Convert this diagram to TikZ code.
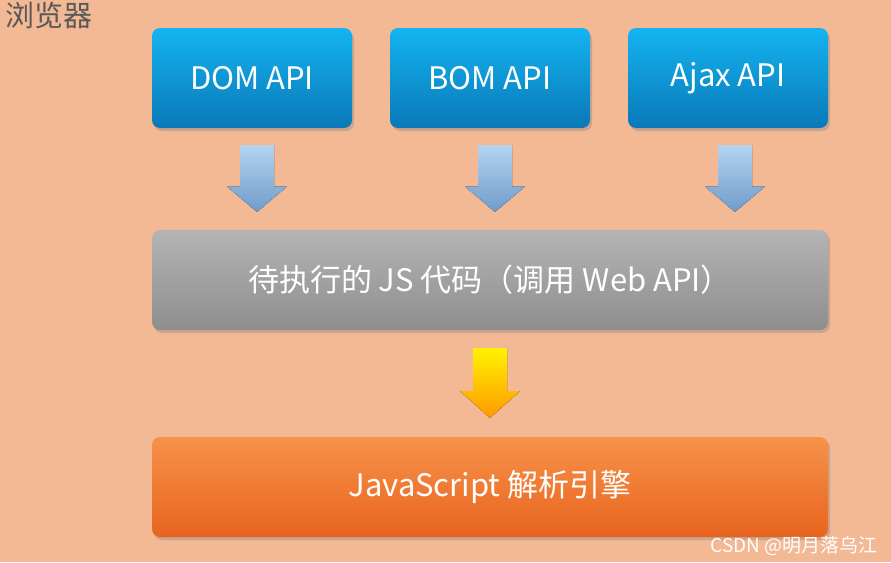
\documentclass[tikz,border=0pt]{standalone}
\usepackage{fontspec}
\setmainfont{Noto Sans CJK SC}
\usetikzlibrary{shadows}
\definecolor{bg}{HTML}{F3B894}
\definecolor{bluetop}{HTML}{14B4F0}
\definecolor{bluebot}{HTML}{0A78B8}
\definecolor{graytop}{HTML}{B4B4B4}
\definecolor{graybot}{HTML}{8E8E8E}
\definecolor{ortop}{HTML}{F7924A}
\definecolor{orbot}{HTML}{E8641E}
\definecolor{arrtop}{HTML}{B4D4F0}
\definecolor{arrbot}{HTML}{6E9CCB}
\tikzset{
  box/.style={rounded corners=8pt, minimum height=100pt, text=white, font=\fontsize{31}{36}\selectfont, drop shadow={shadow xshift=2pt,shadow yshift=-3pt,opacity=0.35}},
  bluebox/.style={box, minimum width=200pt, top color=bluetop, bottom color=bluebot},
  graybox/.style={box, minimum width=676pt, top color=graytop, bottom color=graybot},
  orbox/.style={box, minimum width=676pt, top color=ortop, bottom color=orbot},
  barrow/.style={top color=arrtop, bottom color=arrbot, draw=none},
  yarrow/.style={top color=yellow!90!orange, bottom color=orange!80!yellow, draw=none}
}
\newcommand{\downarr}[4]{% x, ytop, ybottom, style
  \fill[#4] (#1-17,#2) -- (#1+17,#2) -- (#1+17,#2+0.5*#3-0.5*#2+8) -- (#1+30,#2+0.5*#3-0.5*#2+8) -- (#1,#3) -- (#1-30,#2+0.5*#3-0.5*#2+8) -- (#1-17,#2+0.5*#3-0.5*#2+8) -- cycle;}
\begin{document}
\begin{tikzpicture}[x=1pt,y=-1pt]
\fill[bg] (0,0) rectangle (891,562);
\useasboundingbox (0,0) rectangle (891,562);
\node[anchor=north west, inner sep=0pt, text=black!65, font=\fontsize{29}{32}\selectfont] (title) at (5,2) {浏览器};
\node[bluebox] (dom) at (252,78) {DOM API};
\node[bluebox] (bom) at (490,78) {BOM API};
\node[bluebox] (ajax) at (728,78) {Ajax API};
\node[graybox] (js) at (490,280) {待执行的 JS 代码（调用 Web API）};
\node[orbox] (eng) at (490,487) {JavaScript 解析引擎};
\downarr{257}{145}{212}{barrow}
\downarr{495}{145}{212}{barrow}
\downarr{735}{145}{212}{barrow}
\downarr{490}{348}{418}{yarrow}
\node[anchor=south east, inner sep=0pt, text=white, font=\fontsize{19}{22}\selectfont] (wm) at (878,556) {CSDN @明月落乌江};
\end{tikzpicture}
\end{document}
